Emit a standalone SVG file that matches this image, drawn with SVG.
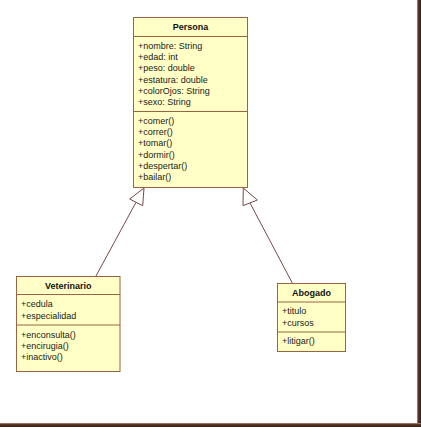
<svg xmlns="http://www.w3.org/2000/svg" width="421" height="427" viewBox="0 0 421 427">
<defs>
<linearGradient id="gr" x1="0" y1="0" x2="1" y2="0"><stop offset="0" stop-color="#b09080"/><stop offset="0.4" stop-color="#5a3020"/><stop offset="1" stop-color="#3a2018"/></linearGradient>
<linearGradient id="gb" x1="0" y1="0" x2="0" y2="1"><stop offset="0" stop-color="#b09080"/><stop offset="0.4" stop-color="#5a3020"/><stop offset="1" stop-color="#3a2018"/></linearGradient>
</defs>
<style>
.box{fill:#ffffc6;stroke:#9a6444;stroke-width:1}
.div{stroke:#9a6444;stroke-width:1}
.t{font-family:"Liberation Sans",Arial,sans-serif;font-size:9px;fill:#1a1a1a}
.h{font-family:"Liberation Sans",Arial,sans-serif;font-size:9px;font-weight:bold;fill:#111;text-anchor:middle}
.ln{stroke:#7a4848;stroke-width:1;fill:none}
.tri{stroke:#7a4848;stroke-width:1;fill:#ffffff}
</style>
<rect width="421" height="427" fill="#ffffff"/>
<rect x="417" y="0" width="4" height="427" fill="url(#gr)"/>
<rect x="0" y="423" width="421" height="4" fill="url(#gb)"/>
<g id="connectors">
<line class="ln" x1="96" y1="276" x2="136" y2="202.3"/>
<polygon class="tri" points="144,188 129.7,199 142.7,205.7"/>
<line class="ln" x1="292.3" y1="283" x2="250" y2="203"/>
<polygon class="tri" points="243.3,188 243,205.7 257.3,200"/>
</g>
<g id="Persona">
<rect class="box" x="133.5" y="17.5" width="114" height="170"/>
<line class="div" x1="133.5" y1="36.5" x2="247.5" y2="36.5"/>
<line class="div" x1="133.5" y1="111.5" x2="247.5" y2="111.5"/>
<text class="h" x="190.5" y="30">Persona</text>
<text class="t" x="138" y="49">+nombre: String</text>
<text class="t" x="138" y="60.2">+edad: int</text>
<text class="t" x="138" y="71.4">+peso: double</text>
<text class="t" x="138" y="82.6">+estatura: double</text>
<text class="t" x="138" y="93.8">+colorOjos: String</text>
<text class="t" x="138" y="105">+sexo: String</text>
<text class="t" x="138" y="124">+comer()</text>
<text class="t" x="138" y="135.2">+correr()</text>
<text class="t" x="138" y="146.4">+tomar()</text>
<text class="t" x="138" y="157.6">+dormir()</text>
<text class="t" x="138" y="168.8">+despertar()</text>
<text class="t" x="138" y="180">+bailar()</text>
</g>
<g id="Veterinario">
<rect class="box" x="16.5" y="276.5" width="103.5" height="95"/>
<line class="div" x1="16.5" y1="294.5" x2="120" y2="294.5"/>
<line class="div" x1="16.5" y1="325" x2="120" y2="325"/>
<text class="h" x="68.3" y="288.5">Veterinario</text>
<text class="t" x="21" y="307.3">+cedula</text>
<text class="t" x="21" y="318.5">+especialidad</text>
<text class="t" x="21" y="337.6">+enconsulta()</text>
<text class="t" x="21" y="348.8">+encirugia()</text>
<text class="t" x="21" y="360">+inactivo()</text>
</g>
<g id="Abogado">
<rect class="box" x="277.5" y="283.5" width="68" height="68"/>
<line class="div" x1="277.5" y1="302" x2="345.5" y2="302"/>
<line class="div" x1="277.5" y1="332" x2="345.5" y2="332"/>
<text class="h" x="311.5" y="295.5">Abogado</text>
<text class="t" x="282" y="314.3">+titulo</text>
<text class="t" x="282" y="325.5">+cursos</text>
<text class="t" x="282" y="344.3">+litigar()</text>
</g>
</svg>
